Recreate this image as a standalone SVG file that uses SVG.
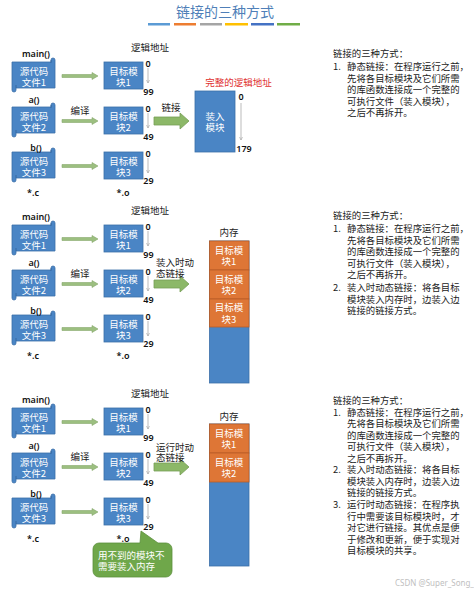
<svg xmlns="http://www.w3.org/2000/svg" width="474" height="593" viewBox="0 0 474 593">
<defs>
<style>
.t{font-family:"Noto Sans CJK SC","Noto Sans",sans-serif}
.w{fill:#fff;font-size:9.5px;text-anchor:middle}
.k{fill:#222;font-size:9.5px}
.n{fill:#111;font-size:9px;text-anchor:middle;font-family:"Noto Sans","Liberation Sans",sans-serif;font-weight:600}
.c{text-anchor:middle}
.r{fill:#222;font-size:9.4px}
.blue{fill:#4a85c5;stroke:#3b6fa8;stroke-width:0.8}
.org{fill:#de7636;stroke:#b85c26;stroke-width:0.8}
.sg{fill:#9cbf80;stroke:#86a86b;stroke-width:0.6}
.bg{fill:#8cb868;stroke:#769e57;stroke-width:0.8}
.ga{stroke:#aaa;stroke-width:0.8;fill:none;marker-end:url(#ah)}
.curl{fill:none;stroke:#2e5f95;stroke-width:0.7}
</style>
<marker id="ah" viewBox="0 0 6 6" refX="5" refY="3" markerWidth="5" markerHeight="5" orient="auto"><path d="M0,0.5 L5,3 L0,5.5" fill="none" stroke="#aaa" stroke-width="1"/></marker>
<path id="scroll" d="M12,0 H51 V-2 A2,2 0 0 1 55,-2 V26 H16 V28 A2,2 0 0 1 12,28 Z"/>
<path id="sarrow" d="M62,-1.5 H92 V-3.5 L98,0 L92,3.5 V1.5 H62 Z"/>
<path id="barrow" d="M154,-4 H180 V-8 L189,0 L180,8 V4 H154 Z"/>
</defs>
<rect width="474" height="593" fill="#fff"/>

<g id="title">
<text class="t c" x="225" y="17" font-size="14" fill="#4f7fb8">链接的三种方式</text>
<rect x="148" y="23" width="22" height="2.5" fill="#5b9bd5"/>
<rect x="174" y="23" width="22" height="2.5" fill="#ed7d31"/>
<rect x="200" y="23" width="22" height="2.5" fill="#a5a5a5"/>
<rect x="225" y="23" width="23" height="2.5" fill="#ffc000"/>
<rect x="251" y="23" width="23" height="2.5" fill="#4472c4"/>
<rect x="277" y="23" width="23" height="2.5" fill="#70ad47"/>
</g>

<!-- Section 1 -->
<g id="sec1-sources">
<g id="s1-src1"><use href="#scroll" y="62" class="blue"/><path class="curl" d="M51,60 V63 M16,88 V85"/><text class="t w" x="34" y="74.5">源代码</text><text class="t w" x="34" y="85.5">文件1</text></g>
<g id="s1-src2"><use href="#scroll" y="107" class="blue"/><path class="curl" d="M51,105 V108 M16,133 V130"/><text class="t w" x="34" y="119.5">源代码</text><text class="t w" x="34" y="130.5">文件2</text></g>
<g id="s1-src3"><use href="#scroll" y="152" class="blue"/><path class="curl" d="M51,150 V153 M16,178 V175"/><text class="t w" x="34" y="164.5">源代码</text><text class="t w" x="34" y="175.5">文件3</text></g>
</g>
<g id="sec1-targets">
<g id="s1-obj1"><rect x="104" y="62" width="39" height="27" class="blue"/><text class="t w" x="123.5" y="74.5">目标模</text><text class="t w" x="123.5" y="85.5">块1</text></g>
<g id="s1-obj2"><rect x="104" y="107" width="39" height="27" class="blue"/><text class="t w" x="123.5" y="119.5">目标模</text><text class="t w" x="123.5" y="130.5">块2</text></g>
<g id="s1-obj3"><rect x="104" y="152" width="39" height="27" class="blue"/><text class="t w" x="123.5" y="164.5">目标模</text><text class="t w" x="123.5" y="175.5">块3</text></g>
</g>
<g id="s1-load"><rect x="195" y="91" width="40" height="61" class="blue"/><text class="t w" x="215" y="119.5">装入</text><text class="t w" x="215" y="130.5">模块</text></g>
<g id="sec1-connectors">
<use href="#sarrow" y="76" class="sg"/><use href="#sarrow" y="121" class="sg"/><use href="#sarrow" y="166" class="sg"/>
<use href="#barrow" y="121" class="bg"/>
<path class="ga" d="M148,68 V83"/><path class="ga" d="M148,113 V128"/><path class="ga" d="M148,158 V173"/>
<path class="ga" d="M241,103 V140"/>
</g>
<g id="sec1-labels">
<text class="t c k" x="150" y="50.5">逻辑地址</text>
<text class="n" x="36" y="56.5">main()</text><text class="n" x="34" y="102.5">a()</text><text class="n" x="36" y="150.5">b()</text>
<text class="n" x="33" y="195.5">*.c</text><text class="n" x="123" y="195.5">*.o</text>
<text class="t c k" x="80" y="114">编译</text>
<text class="t c k" x="171" y="110.5">链接</text>
<text class="t c" x="238.5" y="85.5" font-size="9.5" fill="#e03030">完整的逻辑地址</text>
<text class="n" x="148" y="66.5">0</text><text class="n" x="148.5" y="94.5">99</text>
<text class="n" x="148" y="111.5">0</text><text class="n" x="148.5" y="139.5">49</text>
<text class="n" x="148" y="156.5">0</text><text class="n" x="148.5" y="184">29</text>
<text class="n" x="241" y="99.5">0</text><text class="n" x="244" y="151.5">179</text>
</g>
<g id="sec1-text" class="t r">
<text x="333" y="56.5">链接的三种方式：</text>
<text x="333" y="70">1.</text><text x="347" y="70">静态链接：在程序运行之前，</text>
<text x="347" y="81.5">先将各目标模块及它们所需</text>
<text x="347" y="93">的库函数连接成一个完整的</text>
<text x="347" y="104.5">可执行文件（装入模块），</text>
<text x="347" y="116">之后不再拆开。</text>
</g>

<!-- Section 2 -->
<g id="sec2-sources">
<g id="s2-src1"><use href="#scroll" y="225" class="blue"/><path class="curl" d="M51,223 V226 M16,251 V248"/><text class="t w" x="34" y="237.5">源代码</text><text class="t w" x="34" y="248.5">文件1</text></g>
<g id="s2-src2"><use href="#scroll" y="270" class="blue"/><path class="curl" d="M51,268 V271 M16,296 V293"/><text class="t w" x="34" y="282.5">源代码</text><text class="t w" x="34" y="293.5">文件2</text></g>
<g id="s2-src3"><use href="#scroll" y="315" class="blue"/><path class="curl" d="M51,313 V316 M16,341 V338"/><text class="t w" x="34" y="327.5">源代码</text><text class="t w" x="34" y="338.5">文件3</text></g>
</g>
<g id="sec2-targets">
<g id="s2-obj1"><rect x="104" y="225" width="39" height="27" class="blue"/><text class="t w" x="123.5" y="237.5">目标模</text><text class="t w" x="123.5" y="248.5">块1</text></g>
<g id="s2-obj2"><rect x="104" y="270" width="39" height="27" class="blue"/><text class="t w" x="123.5" y="282.5">目标模</text><text class="t w" x="123.5" y="293.5">块2</text></g>
<g id="s2-obj3"><rect x="104" y="315" width="39" height="27" class="blue"/><text class="t w" x="123.5" y="327.5">目标模</text><text class="t w" x="123.5" y="338.5">块3</text></g>
</g>
<g id="s2-memory">
<text class="t c k" x="229" y="235.5">内存</text>
<rect x="209.5" y="241" width="39.5" height="142" class="blue"/>
<rect x="209.5" y="241" width="39.5" height="29" class="org"/>
<rect x="209.5" y="270" width="39.5" height="29" class="org"/>
<rect x="209.5" y="299" width="39.5" height="28" class="org"/>
<text class="t w" x="229" y="253.5">目标模</text><text class="t w" x="229" y="265">块1</text>
<text class="t w" x="229" y="282.5">目标模</text><text class="t w" x="229" y="294">块2</text>
<text class="t w" x="229" y="311">目标模</text><text class="t w" x="229" y="322.5">块3</text>
</g>
<g id="sec2-connectors">
<use href="#sarrow" y="239" class="sg"/><use href="#sarrow" y="284" class="sg"/><use href="#sarrow" y="329" class="sg"/>
<use href="#barrow" y="284" class="bg"/>
<path class="ga" d="M148,231 V246"/><path class="ga" d="M148,276 V291"/><path class="ga" d="M148,321 V336"/>
</g>
<g id="sec2-labels">
<text class="t c k" x="150" y="213.5">逻辑地址</text>
<text class="n" x="36" y="219.5">main()</text><text class="n" x="34" y="265.5">a()</text><text class="n" x="36" y="313.5">b()</text>
<text class="n" x="33" y="358.5">*.c</text><text class="n" x="123" y="358.5">*.o</text>
<text class="t c k" x="80" y="277">编译</text>
<text class="t k" x="156" y="265.5">装入时动</text><text class="t k" x="156" y="277">态链接</text>
<text class="n" x="148" y="229.5">0</text><text class="n" x="148.5" y="257.5">99</text>
<text class="n" x="148" y="274.5">0</text><text class="n" x="148.5" y="302.5">49</text>
<text class="n" x="148" y="319.5">0</text><text class="n" x="148.5" y="347">29</text>
</g>
<g id="sec2-text" class="t r">
<text x="333" y="218.5">链接的三种方式：</text>
<text x="333" y="232">1.</text><text x="347" y="232">静态链接：在程序运行之前，</text>
<text x="347" y="243.5">先将各目标模块及它们所需</text>
<text x="347" y="255">的库函数连接成一个完整的</text>
<text x="347" y="266.5">可执行文件（装入模块），</text>
<text x="347" y="278">之后不再拆开。</text>
<text x="333" y="291">2.</text><text x="347" y="291">装入时动态链接：将各目标</text>
<text x="347" y="302.5">模块装入内存时，边装入边</text>
<text x="347" y="314">链接的链接方式。</text>
</g>

<!-- Section 3 -->
<g id="sec3-sources">
<g id="s3-src1"><use href="#scroll" y="408" class="blue"/><path class="curl" d="M51,406 V409 M16,434 V431"/><text class="t w" x="34" y="420.5">源代码</text><text class="t w" x="34" y="431.5">文件1</text></g>
<g id="s3-src2"><use href="#scroll" y="453" class="blue"/><path class="curl" d="M51,451 V454 M16,479 V476"/><text class="t w" x="34" y="465.5">源代码</text><text class="t w" x="34" y="476.5">文件2</text></g>
<g id="s3-src3"><use href="#scroll" y="498" class="blue"/><path class="curl" d="M51,496 V499 M16,524 V521"/><text class="t w" x="34" y="510.5">源代码</text><text class="t w" x="34" y="521.5">文件3</text></g>
</g>
<g id="sec3-targets">
<g id="s3-obj1"><rect x="104" y="408" width="39" height="27" class="blue"/><text class="t w" x="123.5" y="420.5">目标模</text><text class="t w" x="123.5" y="431.5">块1</text></g>
<g id="s3-obj2"><rect x="104" y="453" width="39" height="27" class="blue"/><text class="t w" x="123.5" y="465.5">目标模</text><text class="t w" x="123.5" y="476.5">块2</text></g>
<g id="s3-obj3"><rect x="104" y="498" width="39" height="27" class="blue"/><text class="t w" x="123.5" y="510.5">目标模</text><text class="t w" x="123.5" y="521.5">块3</text></g>
</g>
<g id="s3-memory">
<text class="t c k" x="229" y="419.5">内存</text>
<rect x="209.5" y="424" width="39.5" height="142" class="blue"/>
<rect x="209.5" y="424" width="39.5" height="29" class="org"/>
<rect x="209.5" y="453" width="39.5" height="29" class="org"/>
<text class="t w" x="229" y="436.5">目标模</text><text class="t w" x="229" y="448">块1</text>
<text class="t w" x="229" y="465.5">目标模</text><text class="t w" x="229" y="477">块2</text>
</g>
<g id="s3-bubble">
<path d="M99,543 H140 L141,531 L158,543 H166 A6,6 0 0 1 172,549 V571 A6,6 0 0 1 166,577 H99 A6,6 0 0 1 93,571 V549 A6,6 0 0 1 99,543 Z" fill="#6fa74a" stroke="#5c8f3c" stroke-width="0.8"/>
<text class="t" x="98" y="558.5" font-size="9.5" fill="#fff">用不到的模块不</text>
<text class="t" x="98" y="569.5" font-size="9.5" fill="#fff">需要装入内存</text>
</g>
<g id="sec3-connectors">
<use href="#sarrow" y="422" class="sg"/><use href="#sarrow" y="467" class="sg"/><use href="#sarrow" y="512" class="sg"/>
<use href="#barrow" y="467" class="bg"/>
<path class="ga" d="M148,414 V429"/><path class="ga" d="M148,459 V474"/><path class="ga" d="M148,504 V519"/>
</g>
<g id="sec3-labels">
<text class="t c k" x="150" y="396.5">逻辑地址</text>
<text class="n" x="36" y="402.5">main()</text><text class="n" x="34" y="448.5">a()</text><text class="n" x="36" y="496.5">b()</text>
<text class="n" x="33" y="541.5">*.c</text><text class="n" x="123" y="541.5">*.o</text>
<text class="t c k" x="80" y="460">编译</text>
<text class="t k" x="156" y="450.5">运行时动</text><text class="t k" x="156" y="461">态链接</text>
<text class="n" x="148" y="412.5">0</text><text class="n" x="148.5" y="440.5">99</text>
<text class="n" x="148" y="457.5">0</text><text class="n" x="148.5" y="485.5">49</text>
<text class="n" x="148" y="502.5">0</text><text class="n" x="148.5" y="530">29</text>
</g>
<g id="sec3-text" class="t r">
<text x="333" y="403.5">链接的三种方式：</text>
<text x="333" y="415.5">1.</text><text x="347" y="415.5">静态链接：在程序运行之前，</text>
<text x="347" y="427">先将各目标模块及它们所需</text>
<text x="347" y="438.5">的库函数连接成一个完整的</text>
<text x="347" y="450">可执行文件（装入模块），</text>
<text x="347" y="461.5">之后不再拆开。</text>
<text x="333" y="473">2.</text><text x="347" y="473">装入时动态链接：将各目标</text>
<text x="347" y="484.5">模块装入内存时，边装入边</text>
<text x="347" y="496">链接的链接方式。</text>
<text x="333" y="508">3.</text><text x="347" y="508">运行时动态链接：在程序执</text>
<text x="347" y="519.5">行中需要该目标模块时，才</text>
<text x="347" y="531">对它进行链接。其优点是便</text>
<text x="347" y="542.5">于修改和更新，便于实现对</text>
<text x="347" y="554">目标模块的共享。</text>
</g>
<text x="395" y="586" font-family="Noto Sans, Liberation Sans, sans-serif" font-size="8" fill="#c0c0c0">CSDN @Super_Song_</text>
</svg>
